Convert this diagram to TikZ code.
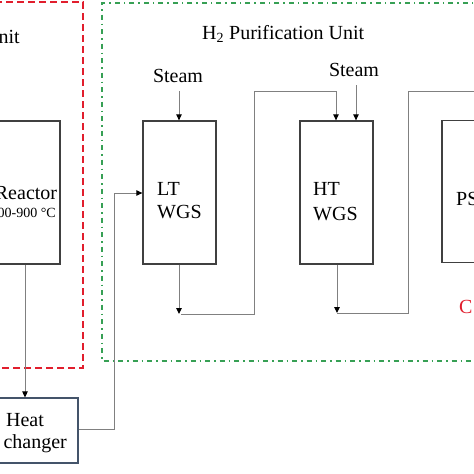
\documentclass[tikz,border=0pt]{standalone}
\usepackage{fontspec}
\setmainfont{Liberation Serif}
\usetikzlibrary{arrows.meta}
\definecolor{boxgray}{RGB}{64,64,64}
\definecolor{conngray}{RGB}{128,128,128}
\definecolor{hxblue}{RGB}{68,84,106}
\definecolor{unitred}{RGB}{225,30,45}
\definecolor{unitgreen}{RGB}{55,160,85}
\tikzset{
  unitbox/.style={draw=boxgray, line width=1.3pt, inner sep=0pt},
  hxbox/.style={draw=hxblue, line width=1.2pt, inner sep=0pt},
  conn/.style={draw=conngray, line width=1pt},
  arr/.style={conn, -{Triangle[length=6pt,width=5.5pt,color=black]}},
  lbl/.style={font=\fontsize{20}{24}\selectfont, inner sep=0pt},
  small/.style={font=\fontsize{14}{17}\selectfont, inner sep=0pt},
  redzone/.style={draw=unitred, line width=2pt, dash pattern=on 7pt off 4pt},
  greenzone/.style={draw=unitgreen, line width=2pt, dash pattern=on 5pt off 4pt on 1.5pt off 4pt},
}
\begin{document}
\begin{tikzpicture}[x=1pt,y=-1pt]
\useasboundingbox (0,0) rectangle (474,474);
\clip (0,0) rectangle (474,474);
\fill[white] (0,0) rectangle (474,474);

% zones
\draw[redzone] (-60,2) -- (83,2) -- (83,368) -- (-60,368);
\draw[greenzone] (540,3) -- (102,3) -- (102,361) -- (540,361);

% boxes
\node[unitbox, minimum width=70pt, minimum height=143pt] (reactor) at (25,192.5) {};
\node[hxbox, minimum width=106pt, minimum height=65pt] (hx) at (25,430.5) {};
\node[unitbox, minimum width=73pt, minimum height=143pt] (lt) at (179.5,192.5) {};
\node[unitbox, minimum width=73pt, minimum height=143pt] (ht) at (336.5,192.5) {};
\node[unitbox, minimum width=73pt, minimum height=142pt] (psa) at (478.5,191.5) {};

% texts
\node[lbl, anchor=base east] (t0) at (20,43) {nit};
\node[lbl, anchor=base west] (title) at (202,39) {H\textsubscript{2} Purification Unit};
\node[lbl, anchor=base] (r1) at (26,199) {Reactor};
\node[small, anchor=base east] (r2) at (56,217) {00-900 °C};
\node[lbl, anchor=base] (h1) at (25,426) {Heat};
\node[lbl, anchor=base east] (h2) at (67,448) {changer};
\node[lbl, anchor=base west] (lt1) at (157,195) {LT};
\node[lbl, anchor=base west] (lt2) at (157,218) {WGS};
\node[lbl, anchor=base west] (ht1) at (313,195) {HT};
\node[lbl, anchor=base west] (ht2) at (313,220) {WGS};
\node[lbl, anchor=base west] (ps) at (456,205) {PS};
\node[lbl, anchor=base west, text=unitred] (cc) at (459,313) {C};
\node[lbl, anchor=base] (steam1) at (178,82) {Steam};
\node[lbl, anchor=base] (steam2) at (354,76) {Steam};

% coordinates
\coordinate (s1) at (179,91);
\coordinate (s2) at (356,85);
\coordinate (j1) at (114,193);
\coordinate (m1) at (179,314);
\coordinate (m1r) at (181,314);
\coordinate (k1) at (254,314);
\coordinate (k2) at (254,91);
\coordinate (k3) at (336,91);
\coordinate (m2) at (337,313);
\coordinate (n1) at (408,313);
\coordinate (n2) at (408,91);
\coordinate (n3) at (480,91);

% connectors
\draw[arr] (reactor.south) -- (hx.north);
\draw[arr] (hx.east |- 0,429) -| (j1) -- (j1 -| lt.west);
\draw[arr] (s1) -- (s1 |- lt.north);
\draw[arr] (s2) -- (s2 |- ht.north);
\draw[arr] (lt.south -| m1) -- (m1);
\draw[conn] (m1r) -- (k1) -- (k2) -- (k3);
\draw[arr] (k3) -- (k3 |- ht.north);
\draw[arr] (ht.south -| m2) -- (m2);
\draw[conn] (m2) -- (n1) -- (n2) -- (n3);
\end{tikzpicture}
\end{document}
